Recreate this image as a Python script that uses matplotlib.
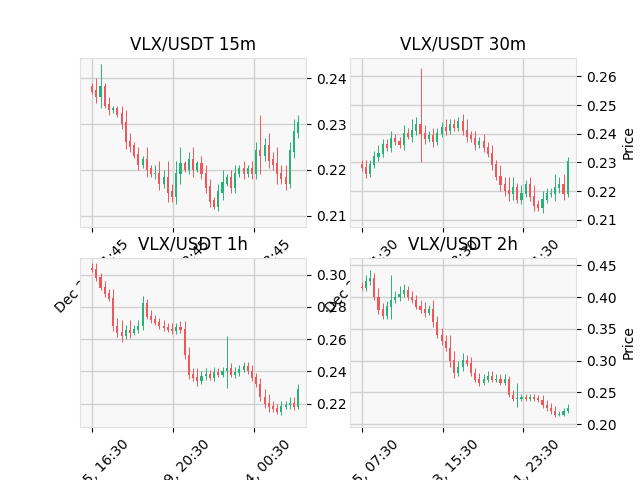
import numpy as np
import matplotlib.pyplot as plt

# --------- Data (approximate closes) ---------
titles = ["VLX/USDT 15m", "VLX/USDT 30m", "VLX/USDT 1h", "VLX/USDT 2h"]

close_15m = [0.237, 0.236, 0.238, 0.234, 0.233, 0.233, 0.232, 0.230, 0.226, 0.225,
             0.223, 0.221, 0.222, 0.220, 0.219, 0.219, 0.217, 0.218, 0.215, 0.214,
             0.219, 0.221, 0.220, 0.222, 0.220, 0.221, 0.219, 0.216, 0.213, 0.212,
             0.215, 0.217, 0.218, 0.216, 0.219, 0.220, 0.219, 0.220, 0.219, 0.224,
             0.223, 0.225, 0.222, 0.221, 0.219, 0.218, 0.217, 0.224, 0.228, 0.230]
wick_15m = [0.001, 0.003, 0.005, 0.001, 0.002, 0.001, 0.001, 0.002, 0.003, 0.002,
            0.001, 0.002, 0.001, 0.003, 0.001, 0.002, 0.003, 0.002, 0.004, 0.002,
            0.003, 0.004, 0.001, 0.002, 0.003, 0.001, 0.002, 0.002, 0.002, 0.001,
            0.002, 0.003, 0.001, 0.002, 0.002, 0.001, 0.002, 0.001, 0.002, 0.002,
            0.008, 0.002, 0.003, 0.002, 0.004, 0.002, 0.003, 0.002, 0.003, 0.002]
ticks_15m = ["Dec 23, 01:45", "Dec 24, 02:45", "Dec 25, 03:45"]

close_30m = [0.228, 0.226, 0.229, 0.232, 0.233, 0.236, 0.235, 0.238, 0.237, 0.236,
             0.240, 0.239, 0.241, 0.243, 0.240, 0.238, 0.239, 0.237, 0.240, 0.242,
             0.241, 0.243, 0.242, 0.244, 0.241, 0.239, 0.238, 0.236, 0.237, 0.235,
             0.233, 0.229, 0.225, 0.222, 0.220, 0.219, 0.221, 0.217, 0.219, 0.222,
             0.218, 0.215, 0.214, 0.217, 0.219, 0.219, 0.221, 0.222, 0.219, 0.230]
wick_30m = [0.002, 0.003, 0.002, 0.002, 0.003, 0.002, 0.002, 0.003, 0.002, 0.002,
            0.003, 0.002, 0.004, 0.003, 0.020, 0.003, 0.002, 0.003, 0.002, 0.002,
            0.003, 0.002, 0.002, 0.002, 0.003, 0.004, 0.002, 0.003, 0.002, 0.003,
            0.002, 0.003, 0.002, 0.004, 0.003, 0.005, 0.004, 0.002, 0.003, 0.002,
            0.003, 0.004, 0.002, 0.003, 0.002, 0.002, 0.005, 0.003, 0.004, 0.002]
ticks_30m = ["Dec 20, 01:30", "Dec 22, 03:30", "Dec 24, 01:30"]

close_1h = [0.303, 0.298, 0.292, 0.288, 0.285, 0.268, 0.264, 0.262, 0.265, 0.264,
            0.266, 0.268, 0.282, 0.274, 0.272, 0.270, 0.268, 0.267, 0.266, 0.265,
            0.267, 0.266, 0.250, 0.238, 0.236, 0.234, 0.237, 0.238, 0.236, 0.239,
            0.238, 0.240, 0.242, 0.238, 0.239, 0.241, 0.243, 0.240, 0.236, 0.232,
            0.224, 0.220, 0.218, 0.217, 0.215, 0.218, 0.219, 0.220, 0.218, 0.229]
wick_1h = [0.003, 0.004, 0.003, 0.004, 0.003, 0.006, 0.005, 0.008, 0.004, 0.007,
           0.003, 0.004, 0.005, 0.003, 0.004, 0.003, 0.003, 0.004, 0.003, 0.004,
           0.003, 0.004, 0.005, 0.005, 0.004, 0.006, 0.003, 0.004, 0.003, 0.004,
           0.003, 0.003, 0.020, 0.003, 0.004, 0.003, 0.003, 0.003, 0.004, 0.003,
           0.004, 0.005, 0.006, 0.004, 0.003, 0.004, 0.003, 0.004, 0.004, 0.003]
ticks_1h = ["Dec 15, 16:30", "Dec 19, 20:30", "Dec 24, 00:30"]

close_2h = [0.415, 0.425, 0.430, 0.400, 0.380, 0.370, 0.385, 0.395, 0.400, 0.405,
            0.410, 0.400, 0.395, 0.385, 0.380, 0.375, 0.380, 0.360, 0.340, 0.330,
            0.320, 0.300, 0.280, 0.290, 0.300, 0.295, 0.280, 0.270, 0.265, 0.270,
            0.275, 0.270, 0.270, 0.265, 0.270, 0.245, 0.240, 0.240, 0.242, 0.240,
            0.242, 0.240, 0.238, 0.230, 0.225, 0.220, 0.215, 0.215, 0.220, 0.225]
wick_2h = [0.008, 0.010, 0.012, 0.008, 0.015, 0.010, 0.008, 0.040, 0.010, 0.012,
           0.010, 0.008, 0.010, 0.008, 0.010, 0.012, 0.008, 0.015, 0.010, 0.012,
           0.010, 0.020, 0.015, 0.010, 0.012, 0.008, 0.010, 0.008, 0.010, 0.008,
           0.008, 0.008, 0.008, 0.008, 0.008, 0.006, 0.008, 0.025, 0.006, 0.006,
           0.006, 0.006, 0.006, 0.008, 0.008, 0.008, 0.008, 0.006, 0.006, 0.006]
ticks_2h = ["Dec 05, 07:30", "Dec 13, 15:30", "Dec 21, 23:30"]

closes = [close_15m, close_30m, close_1h, close_2h]
wicks = [wick_15m, wick_30m, wick_1h, wick_2h]
tick_labels = [ticks_15m, ticks_30m, ticks_1h, ticks_2h]
ylims = [(0.2075, 0.2445), (0.2075, 0.2665), (0.2055, 0.3105), (0.195, 0.462)]
yticks = [[0.21, 0.22, 0.23, 0.24],
          [0.21, 0.22, 0.23, 0.24, 0.25, 0.26],
          [0.22, 0.24, 0.26, 0.28, 0.30],
          [0.20, 0.25, 0.30, 0.35, 0.40, 0.45]]

UP = "#26b37a"
DOWN = "#f0565a"
STEP = 5.2  # x units per candle, so ticks at 0/100/200 sit like the original

fig, axes = plt.subplots(2, 2, figsize=(6.4, 4.8))
fig.subplots_adjust(hspace=0.18, wspace=0.19)

for i, ax in enumerate(axes.flat):
    c = np.array(closes[i])
    o = np.concatenate([[c[0] + 0.001], c[:-1]])
    w = np.array(wicks[i])
    hi = np.maximum(o, c) + w
    lo = np.minimum(o, c) - w / 2
    x = np.arange(len(c)) * STEP
    cols = [UP if cc >= oo else DOWN for oo, cc in zip(o, c)]
    ax.vlines(x, lo, hi, colors=cols, linewidth=0.7, zorder=3)
    ax.bar(x, np.abs(c - o) + 0.0004, bottom=np.minimum(o, c), width=STEP * 0.5,
           color=cols, zorder=3)

    ax.set_facecolor("#f8f8f8")
    ax.grid(True, color="#d0d0d0", linewidth=1)
    for s in ax.spines.values():
        s.set_color("#e0e0e0")
    ax.yaxis.tick_right()
    ax.yaxis.set_label_position("right")
    ax.set_yticks(yticks[i])
    ax.set_ylim(*ylims[i])
    ax.set_xlim(-15, 265)
    ax.set_xticks([0, 100, 200])
    ax.set_xticklabels(tick_labels[i], rotation=45, ha="center")
    ax.set_title(titles[i])
    if i % 2 == 1:
        ax.set_ylabel("Price")

plt.savefig("out.png", dpi=100)
